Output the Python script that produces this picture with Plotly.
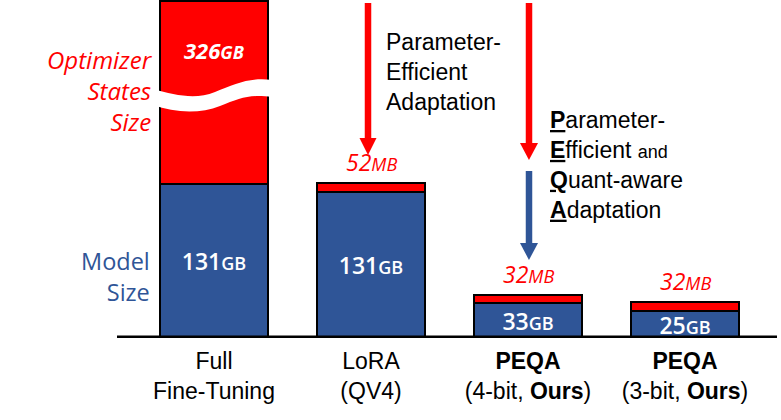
import plotly.graph_objects as go

# categories and labels
methods = ["Full Fine-Tuning", "LoRA (QV4)", "PEQA 4-bit", "PEQA 3-bit"]
tick_labels = ["Full<br>Fine-Tuning", "LoRA<br>(QV4)",
               "<b>PEQA</b><br>(4-bit, <b>Ours</b>)", "<b>PEQA</b><br>(3-bit, <b>Ours</b>)"]

# drawn bar heights (the original figure is not to scale, values read in pixels)
model_height = [154, 146, 35, 27]
optim_height = [183, 9, 8, 9]

# printed sizes
model_num = ["131", "131", "33", "25"]
model_unit = ["GB", "GB", "GB", "GB"]
optim_num = ["326", "52", "32", "32"]
optim_unit = ["GB", "MB", "MB", "MB"]

BLUE = "#2F5597"
RED = "#FF0000"
W, H = 781, 420
BASE = 338  # pixel row of the baseline

def px(x):
    return x / W

def py(y):
    return BASE - y

def pt(x, y):
    return f"{px(x):.4f},{py(y):.2f}"

model_text = [f"{n}<span style='font-size:18px'>{u}</span>" for n, u in zip(model_num, model_unit)]

fig = go.Figure()
fig.add_trace(go.Bar(
    x=list(range(len(methods))), y=model_height, marker_color=BLUE,
    marker_line=dict(color="black", width=2), width=0.69,
    text=model_text, textposition="inside", insidetextanchor="middle",
    constraintext="none", cliponaxis=False,
    textfont=dict(family="Open Sans", size=23, color="white", weight=600),
))
fig.add_trace(go.Bar(
    x=list(range(len(methods))), y=optim_height, marker_color=RED,
    marker_line=dict(color="black", width=2), width=0.69,
    cliponaxis=False,
))

# optimizer state labels
for i, (n, u) in enumerate(zip(optim_num, optim_unit)):
    total = model_height[i] + optim_height[i]
    if i == 0:
        fig.add_annotation(x=i, y=py(50), text=f"<b><i>{n}<span style='font-size:18px'>{u}</span></i></b>",
                           showarrow=False, font=dict(family="Open Sans", size=22, color="white"))
    else:
        fig.add_annotation(x=i, y=total, yanchor="bottom", yshift=3,
                           text=f"<i>{n}<span style='font-size:18px'>{u}</span></i>",
                           showarrow=False, font=dict(family="Open Sans", size=23, color=RED))

shapes = []
# wavy break on the first bar
path = (f"M {pt(153, 89)} C {pt(175, 95)} {pt(195, 100)} {pt(215, 92)} "
        f"S {pt(250, 77)} {pt(272, 80)} L {pt(272, 97)} "
        f"C {pt(250, 94)} {pt(240, 98)} {pt(220, 106)} "
        f"S {pt(175, 113)} {pt(153, 105)} Z")
shapes.append(dict(type="path", xref="paper", yref="y", path=path,
                   fillcolor="white", line=dict(width=0), layer="above"))

# baseline
shapes.append(dict(type="line", xref="paper", yref="y", x0=px(117), x1=px(777), y0=0, y1=0,
                   line=dict(color="black", width=5), layer="above"))

def arrow(x, y0, y1, head, color, hw=8.5):
    shapes.append(dict(type="line", xref="paper", yref="y", x0=px(x), x1=px(x),
                       y0=py(y0), y1=py(head), line=dict(color=color, width=6.5)))
    p = f"M {pt(x - hw, head)} L {pt(x + hw, head)} L {pt(x, y1)} Z"
    shapes.append(dict(type="path", xref="paper", yref="y", path=p,
                       fillcolor=color, line=dict(width=0)))

arrow(368, 3, 155, 138, RED)
arrow(529, 3, 160, 143, RED, 9)
arrow(529, 171, 260, 243, BLUE, 9)

fig.update_layout(shapes=shapes)

# side labels
fig.add_annotation(xref="paper", x=px(155), xanchor="right", y=py(90), yanchor="middle",
                   text="<i>Optimizer<br>States<br>Size</i>", align="right", showarrow=False,
                   font=dict(family="Open Sans", size=24, color=RED))
fig.add_annotation(xref="paper", x=px(152), xanchor="right", y=py(276), yanchor="middle",
                   text="Model<br>Size", align="right", showarrow=False,
                   font=dict(family="Open Sans", size=23.5, color=BLUE))
fig.add_annotation(xref="paper", x=px(384), xanchor="left", y=py(72), yanchor="middle",
                   text="Parameter-<br>Efficient<br>Adaptation", align="left", showarrow=False,
                   font=dict(family="Liberation Sans", size=23, color="black"))
fig.add_annotation(xref="paper", x=px(548), xanchor="left", y=py(165), yanchor="middle",
                   text="<u><b>P</b></u>arameter-<br><u><b>E</b></u>fficient "
                        "<span style='font-size:18px'>and</span><br><u><b>Q</b></u>uant-aware<br>"
                        "<u><b>A</b></u>daptation",
                   align="left", showarrow=False,
                   font=dict(family="Liberation Sans", size=23, color="black"))

fig.update_layout(
    width=W, height=H, barmode="stack", showlegend=False,
    margin=dict(l=0, r=0, t=0, b=H - BASE),
    plot_bgcolor="white", paper_bgcolor="white",
    xaxis=dict(range=[-214 / 157, (W - 214) / 157], tickvals=list(range(len(methods))),
               ticktext=tick_labels, showgrid=False, zeroline=False, showline=False,
               ticklabelstandoff=7,
               tickfont=dict(family="Liberation Sans", size=23, color="black"), ticks=""),
    yaxis=dict(range=[0, BASE], visible=False),
)

fig.write_html("out.html", config={"displayModeBar": False},
               post_script="document.body.style.margin='0';")
